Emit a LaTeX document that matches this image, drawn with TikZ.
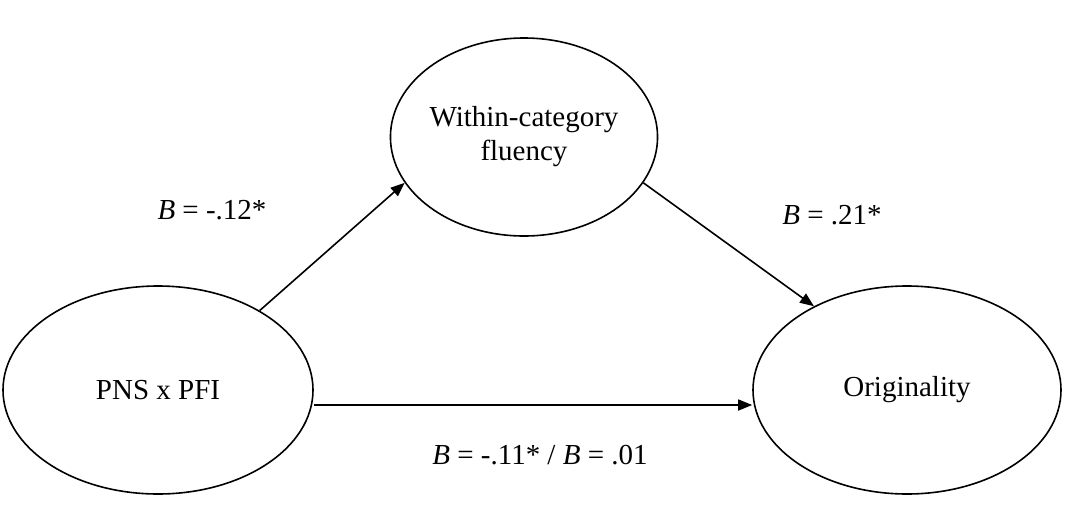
\documentclass[tikz,border=0pt]{standalone}
\usepackage{fontspec}
\setmainfont{Liberation Serif}
\usetikzlibrary{arrows.meta,shapes.geometric}
\begin{document}
\begin{tikzpicture}[x=1pt,y=-1pt,
  el/.style={draw,line width=1.6pt,ellipse,inner sep=0pt,align=center,font=\fontsize{29}{34}\selectfont},
  lab/.style={font=\fontsize{29}{34}\selectfont},
  arr/.style={line width=1.6pt,-{Triangle[length=14pt,width=11pt]}}]
\useasboundingbox (0,0) rectangle (1077,515);
\node[el,minimum width=310pt,minimum height=208pt] (a) at (158,390) {PNS x PFI};
\node[el,minimum width=224pt,minimum height=198pt] (m) at (524,137) {Within-category\\fluency};
\node[el,minimum width=308pt,minimum height=208pt] (o) at (907,390) {Originality};
\draw[arr] (a.38) -- (m.201);
\draw[arr] (m.-21) -- (o.138);
\draw[arr] (a.east |- 0,405) -- (o.west |- 0,405);
\node[lab] (l1) at (212,210) {\textit{B} = -.12*};
\node[lab] (l2) at (832,215) {\textit{B} = .21*};
\node[lab] (l3) at (540,455) {\textit{B} = -.11* / \textit{B} = .01};
\end{tikzpicture}
\end{document}
